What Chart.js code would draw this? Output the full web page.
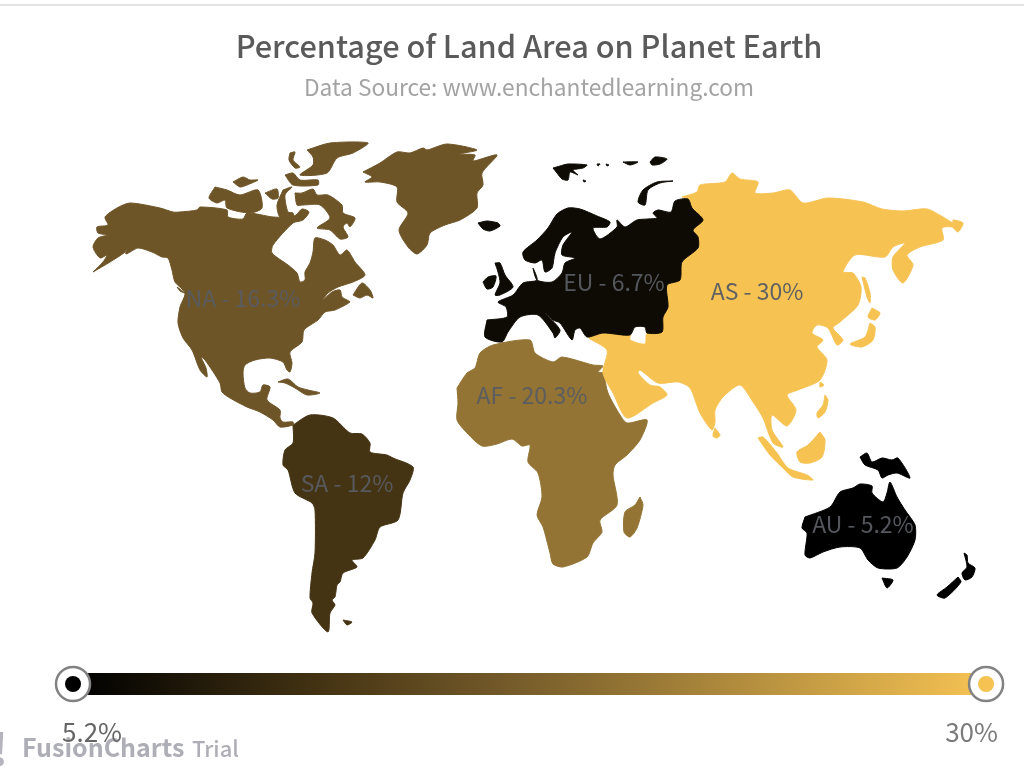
<!DOCTYPE html>
<html>
<head>
<meta charset="utf-8">
<title>Percentage of Land Area on Planet Earth</title>
<script src="https://cdn.jsdelivr.net/npm/chart.js@4"></script>
<style>
  html, body { margin: 0; padding: 0; background: #fff; }
  #rule { position: absolute; left: 0; top: 4px; width: 1024px; height: 2px; background: #e2e2e2; }
  #chart { position: absolute; left: 0; top: 0; }
</style>
</head>
<body>
<canvas id="chart" width="1024" height="770"></canvas>
<div id="rule"></div>
<script>
var titleText = "Percentage of Land Area on Planet Earth";
var subtitleText = "Data Source: www.enchantedlearning.com";

// continent values and their map colours
var continents = ["NA", "EU", "AS", "AF", "SA", "AU"];
var percentValues = [16.3, 6.7, 30, 20.3, 12, 5.2];
var continentColors = ["#6e5527", "#0e0b04", "#f6c353", "#937434", "#453413", "#000000"];

// where each value label sits, in map units
var labelX = [243, 614, 757, 532, 347, 863];
var labelY = [299, 283, 292, 396, 484, 525];

// colour range legend
var rangeMin = 5.2;
var rangeMax = 30;
var rangeLabels = ["5.2%", "30%"];

// outlines, in map units (x 0-1024, y 0-770 going down)
var northAmerica = [
  [[93,272],[110,262],[125,252],[127,247],[126,254],[138,248],[152,252],[162,257],[168,258],[172,270],[175,282],[185,293],[180,307],[178,323],[183,338],[192,350],[200,370],[207,377],[206,368],[201,357],[205,360],[220,383],[222,392],[230,398],[247,407],[260,412],[273,420],[280,427],[293,425],[293,422],[283,422],[280,418],[280,410],[267,400],[270,387],[263,385],[260,392],[250,393],[245,388],[243,373],[245,365],[255,360],[270,358],[283,362],[287,370],[290,372],[292,363],[290,352],[302,342],[304,330],[318,320],[325,312],[335,310],[350,302],[347,300],[342,297],[340,290],[332,292],[323,300],[328,293],[338,287],[353,282],[365,275],[355,262],[347,250],[340,255],[333,245],[325,240],[315,238],[313,252],[310,263],[305,272],[305,280],[300,282],[297,273],[288,265],[272,253],[273,245],[293,223],[303,220],[309,212],[302,209],[296,215],[288,217],[273,217],[247,213],[243,219],[228,217],[227,210],[200,207],[197,210],[180,212],[173,212],[160,208],[130,203],[117,208],[105,217],[108,225],[97,227],[98,233],[107,235],[98,238],[93,247],[100,258],[107,255],[103,262]],
  [[307,150],[330,143],[368,143],[353,153],[337,158],[327,173],[300,175],[313,165],[313,157]],
  [[290,153],[295,152],[293,160],[300,167],[295,168],[289,160]],
  [[285,175],[293,173],[300,180],[318,180],[318,185],[293,185]],
  [[233,182],[243,177],[250,180],[258,180],[247,185],[240,187]],
  [[215,187],[227,190],[240,195],[258,190],[262,208],[250,213],[227,208],[225,200],[217,203],[209,198]],
  [[265,193],[277,189],[278,198],[272,199]],
  [[283,190],[292,187],[285,195],[288,212],[293,213],[293,218],[280,217],[277,205]],
  [[295,193],[302,193],[313,189],[317,195],[328,195],[342,205],[343,213],[355,218],[350,227],[347,223],[343,227],[348,237],[340,239],[330,230],[317,228],[330,218],[320,205],[303,205],[297,205]],
  [[353,295],[362,283],[370,290],[373,298],[367,295],[360,298]],
  [[177,287],[185,293],[180,291]],
  [[278,382],[288,379],[298,387],[308,390],[320,393],[307,395],[295,388],[285,383]],
  [[363,172],[380,163],[397,152],[410,153],[423,148],[427,150],[447,144],[477,150],[460,154],[475,155],[473,161],[497,155],[482,173],[483,185],[477,193],[477,208],[460,220],[445,225],[430,233],[427,245],[417,254],[408,247],[399,230],[408,213],[397,202],[397,187],[380,182],[365,182],[372,177]]
];
var europe = [
  [[487,320],[485,337],[502,342],[508,332],[520,317],[538,315],[553,333],[555,338],[560,330],[547,315],[545,312],[553,320],[560,323],[572,340],[575,330],[580,328],[587,337],[603,333],[630,335],[635,327],[645,327],[647,333],[662,332],[663,317],[668,307],[667,285],[680,280],[682,262],[698,248],[698,237],[693,230],[703,220],[692,208],[688,199],[675,201],[671,212],[658,210],[653,213],[657,218],[637,220],[625,227],[617,220],[617,227],[600,239],[593,228],[607,227],[610,222],[597,216],[580,209],[568,208],[557,214],[548,228],[537,240],[523,252],[525,260],[535,263],[542,260],[545,272],[552,268],[555,253],[563,237],[572,232],[563,245],[562,255],[575,258],[565,263],[562,273],[552,282],[537,280],[533,268],[537,280],[523,283],[513,295],[498,302],[506,307],[507,317]],
  [[478,223],[487,221],[498,223],[500,226],[490,231],[483,229]],
  [[553,168],[560,166],[568,164],[587,165],[583,168],[573,170],[578,175],[570,172],[568,180],[562,179],[557,173]],
  [[583,180],[586,181],[584,182]],
  [[597,164],[600,164],[598,166]],
  [[606,164],[609,165],[607,166]],
  [[623,162],[638,162],[630,165]],
  [[650,162],[655,157],[667,159],[660,164],[652,165]],
  [[673,181],[660,183],[648,190],[645,205],[638,202],[643,190],[657,182]],
  [[483,282],[488,277],[496,276],[493,287],[487,289]],
  [[495,263],[500,263],[505,275],[513,287],[500,295],[495,295],[500,283],[498,272]]
];
var asia = [
  [[682,197],[697,192],[700,185],[725,182],[732,173],[740,179],[758,182],[755,193],[773,193],[790,190],[803,203],[828,198],[863,202],[882,209],[903,211],[927,209],[943,217],[953,223],[953,220],[963,223],[958,232],[952,227],[942,228],[943,240],[920,247],[907,255],[913,265],[903,283],[893,270],[893,257],[905,243],[893,247],[885,257],[855,255],[843,272],[853,273],[861,287],[858,305],[840,322],[833,328],[843,340],[837,345],[828,328],[817,325],[812,333],[823,340],[817,347],[827,360],[820,380],[798,390],[787,395],[796,410],[787,426],[772,415],[772,430],[783,447],[773,443],[763,418],[753,402],[740,385],[723,397],[715,410],[715,422],[712,430],[700,413],[690,388],[678,382],[658,383],[640,370],[638,373],[650,385],[660,387],[667,395],[653,403],[627,418],[613,393],[603,373],[607,350],[588,337],[603,333],[630,335],[630,340],[645,344],[647,333],[662,332],[663,317],[668,307],[667,285],[680,280],[682,262],[698,248],[698,237],[693,230],[703,220],[692,208],[688,199]],
  [[862,277],[865,278],[870,293],[870,303],[867,297]],
  [[872,308],[880,313],[875,320],[868,317]],
  [[870,323],[875,327],[873,340],[862,347],[850,344],[865,337]],
  [[820,382],[824,385],[820,387]],
  [[825,395],[828,400],[825,412],[818,418],[817,413],[823,405]],
  [[715,428],[720,435],[717,438],[713,436]],
  [[820,432],[825,440],[822,457],[810,463],[800,462],[797,452],[808,445]],
  [[758,438],[763,437],[777,453],[788,468],[807,475],[813,480],[793,477],[783,468],[770,455]]
];
var africa = [
  [[457,388],[467,373],[475,368],[480,353],[493,345],[530,340],[535,353],[553,362],[562,357],[593,365],[603,366],[598,372],[603,373],[608,393],[620,415],[627,423],[647,420],[640,440],[627,455],[615,465],[613,475],[617,505],[600,520],[602,532],[593,543],[587,557],[563,567],[553,564],[550,553],[543,527],[537,515],[542,497],[538,473],[528,462],[530,445],[522,446],[512,439],[497,444],[482,446],[467,433],[457,420],[458,403]],
  [[640,497],[643,505],[637,528],[630,537],[624,532],[625,512],[635,505]]
];
var southAmerica = [
  [[293,425],[310,415],[333,418],[350,433],[362,434],[370,443],[370,452],[387,455],[393,458],[413,467],[410,480],[403,493],[398,520],[380,527],[375,540],[363,558],[352,560],[357,567],[343,573],[340,582],[337,585],[335,597],[332,600],[335,605],[330,613],[328,632],[312,613],[313,603],[310,598],[312,573],[315,553],[315,510],[312,503],[295,493],[288,470],[283,465],[285,450],[293,443]],
  [[343,620],[352,622],[347,625]]
];
var australia = [
  [[805,517],[830,507],[840,492],[853,488],[860,484],[872,486],[872,493],[883,502],[887,493],[890,482],[897,497],[905,510],[915,525],[915,540],[907,557],[897,568],[878,568],[868,560],[860,548],[840,547],[823,552],[810,558],[805,555],[807,533],[802,528]],
  [[882,578],[893,580],[887,588]],
  [[860,457],[867,453],[872,462],[882,458],[892,460],[898,458],[910,478],[897,473],[888,475],[882,478],[878,470],[865,465]],
  [[964,553],[967,555],[968,563],[975,568],[972,577],[965,580],[962,573],[967,567]],
  [[958,577],[961,582],[945,598],[937,595],[947,587]]
];
var outlines = [northAmerica, europe, asia, africa, southAmerica, australia];

var labelFont = '"Noto Sans CJK SC", "Noto Sans", sans-serif';

// turns one closed outline into a filled dataset
function outlineDataset(points, color) {
  var data = [];
  for (var i = 0; i < points.length; i++) {
    data.push({ x: points[i][0], y: points[i][1] });
  }
  data.push({ x: points[0][0], y: points[0][1] });
  return {
    type: "scatter",
    data: data,
    showLine: true,
    fill: "shape",
    backgroundColor: color,
    borderColor: color,
    borderWidth: 1,
    pointRadius: 0,
    pointHoverRadius: 0,
    tension: 0.25,
    order: 5
  };
}

function colorForValue(value) {
  return continentColors[percentValues.indexOf(value)];
}

// gradient of the range bar, stops taken from the continent values
function rangeGradient(context) {
  var chart = context.chart;
  var scale = chart.scales.xRange;
  if (!scale) return "#000";
  var left = scale.getPixelForValue(rangeMin);
  var right = scale.getPixelForValue(rangeMax);
  if (!isFinite(left) || !isFinite(right)) return "#000";
  var gradient = chart.ctx.createLinearGradient(left, 0, right, 0);
  var sorted = percentValues.slice().sort(function (a, b) { return a - b; });
  for (var i = 0; i < sorted.length; i++) {
    gradient.addColorStop((sorted[i] - rangeMin) / (rangeMax - rangeMin), colorForValue(sorted[i]));
  }
  return gradient;
}

var datasets = [];
var rangeY = 684;

// range handles, inner dot first so it stays on top
datasets.push({
  type: "scatter",
  xAxisID: "xRange",
  data: [{ x: rangeMin, y: rangeY }, { x: rangeMax, y: rangeY }],
  pointRadius: 8,
  pointBackgroundColor: [colorForValue(rangeMin), colorForValue(rangeMax)],
  pointBorderWidth: 0,
  order: 1
});
datasets.push({
  type: "scatter",
  xAxisID: "xRange",
  data: [{ x: rangeMin, y: rangeY }, { x: rangeMax, y: rangeY }],
  pointRadius: 17,
  pointBackgroundColor: "#ffffff",
  pointBorderColor: "#828282",
  pointBorderWidth: 2.5,
  order: 2
});
datasets.push({
  type: "scatter",
  xAxisID: "xRange",
  data: [{ x: rangeMin, y: rangeY }, { x: rangeMax, y: rangeY }],
  showLine: true,
  borderColor: rangeGradient,
  borderWidth: 22,
  borderCapStyle: "butt",
  pointRadius: 0,
  order: 3
});

for (var c = 0; c < outlines.length; c++) {
  for (var p = 0; p < outlines[c].length; p++) {
    datasets.push(outlineDataset(outlines[c][p], continentColors[c]));
  }
}

function drawText(ctx, text, x, y, font, color, align) {
  ctx.font = font;
  ctx.fillStyle = color;
  ctx.textAlign = align;
  ctx.textBaseline = "alphabetic";
  ctx.fillText(text, x, y);
}

var textPlugin = {
  id: "mapTexts",
  afterDatasetsDraw: function (chart) {
    var ctx = chart.ctx;
    var sx = chart.scales.x;
    var sy = chart.scales.y;
    var rx = chart.scales.xRange;
    ctx.save();
    drawText(ctx, titleText, sx.getPixelForValue(529), sy.getPixelForValue(58), "500 30.7px " + labelFont, "#5a5a5a", "center");
    drawText(ctx, subtitleText, sx.getPixelForValue(529), sy.getPixelForValue(96), "22.7px " + labelFont, "#a3a3a3", "center");
    for (var i = 0; i < continents.length; i++) {
      drawText(ctx, continents[i] + " - " + percentValues[i] + "%", sx.getPixelForValue(labelX[i]), sy.getPixelForValue(labelY[i] + 8),
        "23px " + labelFont, "rgba(88,92,98,0.95)", "center");
    }
    // watermark sits under the range label
    drawText(ctx, "!", sx.getPixelForValue(0), sy.getPixelForValue(765), "bold 44px " + labelFont, "#b4b4bc", "center");
    drawText(ctx, "FusionCharts", sx.getPixelForValue(22), sy.getPixelForValue(757), "bold 25px " + labelFont, "#aeaeb6", "left");
    drawText(ctx, "Trial", sx.getPixelForValue(192), sy.getPixelForValue(757), "500 22px " + labelFont, "#aeaeb6", "left");
    drawText(ctx, rangeLabels[0], rx.getPixelForValue(rangeMin) + 19, sy.getPixelForValue(742), "26px " + labelFont, "#666666", "center");
    drawText(ctx, rangeLabels[1], rx.getPixelForValue(rangeMax) - 14.5, sy.getPixelForValue(742), "26px " + labelFont, "#7b7b7b", "center");
    ctx.restore();
  }
};

var chart = new Chart(document.getElementById("chart").getContext("2d"), {
  type: "scatter",
  data: { datasets: datasets },
  options: {
    responsive: false,
    animation: false,
    devicePixelRatio: 1,
    layout: { padding: 0, autoPadding: false },
    plugins: {
      legend: { display: false },
      tooltip: { enabled: false }
    },
    scales: {
      x: { type: "linear", display: false, min: 0, max: 1024 },
      xRange: { type: "linear", display: false, axis: "x", min: 3.217, max: 31.03 },
      y: { type: "linear", display: false, min: 0, max: 770, reverse: true }
    }
  },
  plugins: [textPlugin]
});
</script>
</body>
</html>
